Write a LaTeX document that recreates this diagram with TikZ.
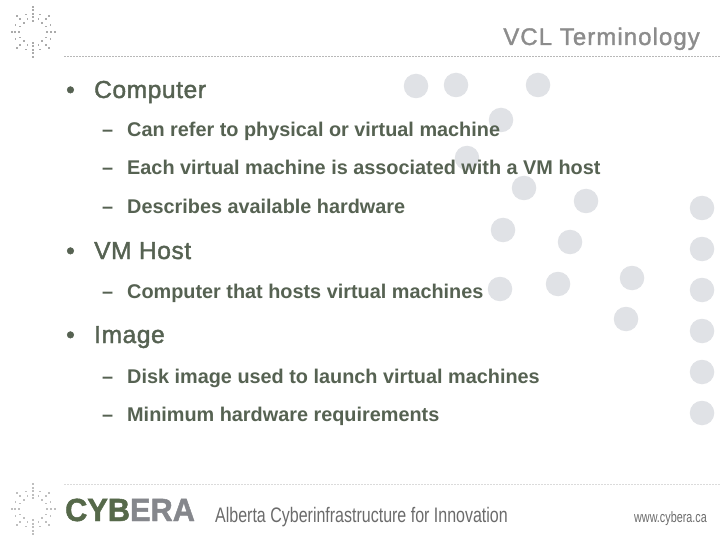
\documentclass[tikz,border=0pt]{standalone}
\usepackage{fontspec}
\setmainfont{Liberation Sans}
\newfontfamily\lbl[LetterSpace=2.5,FakeBold=1.7]{Liberation Sans}
\newfontfamily\ttlf[LetterSpace=4.4,FakeBold=1.4]{Liberation Sans}
\newfontfamily\lsub{Liberation Sans Bold}
\newfontfamily\narrow[FakeStretch=0.762]{Liberation Sans}
\newfontfamily\webf[FakeStretch=0.72]{Liberation Sans}
\newfontfamily\logo[FakeStretch=0.96,FakeBold=1.5]{Liberation Sans Bold}
\definecolor{txt}{HTML}{566252}
\definecolor{dotg}{HTML}{E0E2E6}
\definecolor{ttl}{HTML}{8C8C8C}
\definecolor{leaf}{HTML}{56694A}
\definecolor{logog}{HTML}{85878C}
\tikzset{
  x=1pt,y=-1pt,
  bg/.style={circle,fill=dotg,draw=none,minimum size=24.5pt,inner sep=0pt},
  main/.style={anchor=base west,text=txt,inner sep=0pt,font=\fontsize{24.5}{26}\lbl},
  subt/.style={anchor=base west,text=txt,inner sep=0pt,font=\fontsize{19.85}{24}\lsub},
  rule/.style={draw=black!28,line width=1pt,dash pattern=on 1.5pt off 1.5pt},
  ruleb/.style={draw=black!14,line width=1pt,dash pattern=on 1.5pt off 1.5pt},
  spark/.style={fill=black!33,draw=none},
  sparkb/.style={fill=black!25,draw=none}
}
\newcommand{\burst}[3]{%
  \foreach \r in {11,14.5,18,21.5,25}{
    \fill[#3] ({#1-1},{#2+\r-1}) rectangle ++(2,2);
    \fill[#3] ({#1-1},{#2-\r-1}) rectangle ++(2,2);
  }
  \foreach \r in {14,18,21.5}{
    \fill[#3] ({#1+\r-1},{#2-1}) rectangle ++(2,2);
    \fill[#3] ({#1-\r-1},{#2-1}) rectangle ++(2,2);
  }
  \foreach \a in {45,135,225,315}{
    \foreach \r in {13,18,23}{
      \fill[#3] ({#1+\r*cos(\a)-1},{#2+\r*sin(\a)-1}) rectangle ++(2,2);
    }
  }
  \foreach \a in {22.5,67.5,112.5,157.5,202.5,247.5,292.5,337.5}{
    \foreach \r in {14,19}{
      \fill[#3] ({#1+\r*cos(\a)-.8},{#2+\r*sin(\a)-.8}) rectangle ++(1.6,1.6);
    }
  }
}
\begin{document}
\begin{tikzpicture}
\useasboundingbox[fill=white] (0,0) rectangle (720,540);
% background dots
\foreach \n/\px/\py in {a/416/86,b/456/85,c/538/85,d/501/120,e/467/158,f/524/188,g/586/201,h/503/230,i/570/242,j/500/289,k/558/284,l/632/278,m/626/319,n/702/208,o/702/249,p/702/290,q/702/331,r/702/372,s/702/413}
  \node[bg] (dot\n) at (\px,\py) {};
% logos
\burst{33}{32}{spark}
\burst{33}{509}{sparkb}
\draw[rule] (64,57) -- (720,57);
\draw[ruleb] (64,484) -- (720,484);
% title
\node[anchor=base east,text=ttl,inner sep=0pt,font=\fontsize{24}{26}\ttlf] (title) at (700,45) {VCL Terminology};
% text
\node[main] (b1) at (66,98) {•};
\node[main] (t1) at (94,98) {Computer};
\node[subt] (d11) at (102,137) {–};
\node[subt] (s11) at (127,137) {Can refer to physical or virtual machine};
\node[subt] (d12) at (102,175) {–};
\node[subt] (s12) at (127,175) {Each virtual machine is associated with a VM host};
\node[subt] (d13) at (102,214) {–};
\node[subt] (s13) at (127,214) {Describes available hardware};
\node[main] (b2) at (66,259) {•};
\node[main] (t2) at (94,259) {VM Host};
\node[subt] (d21) at (102,298) {–};
\node[subt] (s21) at (127,298) {Computer that hosts virtual machines};
\node[main] (b3) at (66,343) {•};
\node[main] (t3) at (94,343) {Image};
\node[subt] (d31) at (102,383) {–};
\node[subt] (s31) at (127,383) {Disk image used to launch virtual machines};
\node[subt] (d32) at (102,421) {–};
\node[subt] (s32) at (127,421) {Minimum hardware requirements};
% footer
\node[anchor=base west,inner sep=0pt,font=\fontsize{32}{33}\logo] (cy) at (65,521) {\textcolor{leaf}{CYB}\textcolor{logog}{ERA}};
\node[anchor=base west,inner sep=0pt,text=black!58,font=\fontsize{21}{24}\narrow] (tag) at (215,522) {Alberta Cyberinfrastructure for Innovation};
\node[anchor=base east,inner sep=0pt,text=black!58,font=\fontsize{15}{18}\webf] (web) at (707,522) {www.cybera.ca};
\end{tikzpicture}
\end{document}
